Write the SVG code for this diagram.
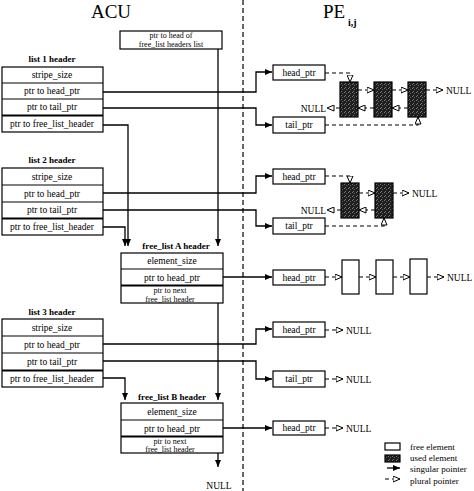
<svg xmlns="http://www.w3.org/2000/svg" width="474" height="491" viewBox="0 0 474 491">
<style>
text{font-family:"Liberation Serif","Times New Roman",serif;fill:#000}
.t{font-size:9.5px;text-anchor:middle}
.s{font-size:8px;text-anchor:middle}
.h{font-size:9px;font-weight:bold;text-anchor:middle}
.n{font-size:9.5px}
.title{font-size:19px;text-anchor:middle}
.box{fill:#fff;stroke:#000;stroke-width:1.2}
.used{fill:url(#hatch);stroke:#000;stroke-width:1.2}
.free{fill:#fff;stroke:#000;stroke-width:1.2}
.sp{fill:none;stroke:#000;stroke-width:1.3;marker-end:url(#sa)}
.pp{fill:none;stroke:#000;stroke-width:1.1;stroke-dasharray:4,3;marker-end:url(#pa)}
.div{fill:none;stroke:#000;stroke-width:1.2;stroke-dasharray:5,3}
</style>
<defs>
<pattern id="hatch" width="4" height="4" patternUnits="userSpaceOnUse">
<rect width="4" height="4" fill="#1e1e1e"/>
<rect x="0" y="0" width="1" height="1" fill="#777"/>
<rect x="2" y="1" width="1" height="1" fill="#666"/>
<rect x="1" y="3" width="1" height="1" fill="#777"/>
</pattern>
<marker id="sa" markerWidth="8" markerHeight="6" refX="7" refY="3" orient="auto" markerUnits="userSpaceOnUse">
<path d="M0,0 L7,3 L0,6 z" fill="#000"/>
</marker>
<marker id="pa" markerWidth="9" markerHeight="7" refX="7.5" refY="3.5" orient="auto" markerUnits="userSpaceOnUse">
<path d="M0.5,0.5 L7.5,3.5 L0.5,6.5 z" fill="#fff" stroke="#000" stroke-width="1"/>
</marker>
</defs>

<rect width="474" height="491" fill="#fff"/>

<text class="title" x="111" y="18">ACU</text>
<text class="title" x="334" y="18">PE</text>
<text x="348" y="26" style="font-size:10px;font-weight:bold">i,j</text>

<line class="div" x1="243" y1="0" x2="243" y2="491"/>

<g id="freelist-head-ptr">
<rect class="box" x="120" y="31" width="102" height="18"/>
<text class="s" x="171" y="38">ptr to head of</text>
<text class="s" x="171" y="47">free_list headers list</text>
</g>

<g id="list1-header">
<text class="h" x="52" y="62">list 1 header</text>
<rect class="box" x="2" y="67" width="101" height="65"/>
<line x1="2" y1="83" x2="103" y2="83" stroke="#000" stroke-width="1.2"/>
<line x1="2" y1="99" x2="103" y2="99" stroke="#000" stroke-width="1.2"/>
<line x1="2" y1="115.5" x2="103" y2="115.5" stroke="#000" stroke-width="2"/>
<text class="t" x="52" y="78">stripe_size</text>
<text class="t" x="52" y="94">ptr to head_ptr</text>
<text class="t" x="52" y="110">ptr to tail_ptr</text>
<text class="t" x="52" y="127">ptr to free_list_header</text>
</g>

<g id="list2-header">
<text class="h" x="52" y="163">list 2 header</text>
<rect class="box" x="2" y="168" width="101" height="67"/>
<line x1="2" y1="185" x2="103" y2="185" stroke="#000" stroke-width="1.2"/>
<line x1="2" y1="202" x2="103" y2="202" stroke="#000" stroke-width="1.2"/>
<line x1="2" y1="218.5" x2="103" y2="218.5" stroke="#000" stroke-width="2"/>
<text class="t" x="52" y="180">stripe_size</text>
<text class="t" x="52" y="197">ptr to head_ptr</text>
<text class="t" x="52" y="213">ptr to tail_ptr</text>
<text class="t" x="52" y="230">ptr to free_list_header</text>
</g>

<g id="list3-header">
<text class="h" x="52" y="315">list 3 header</text>
<rect class="box" x="2" y="319" width="101" height="68"/>
<line x1="2" y1="336" x2="103" y2="336" stroke="#000" stroke-width="1.2"/>
<line x1="2" y1="353" x2="103" y2="353" stroke="#000" stroke-width="1.2"/>
<line x1="2" y1="370.5" x2="103" y2="370.5" stroke="#000" stroke-width="2"/>
<text class="t" x="52" y="331">stripe_size</text>
<text class="t" x="52" y="348">ptr to head_ptr</text>
<text class="t" x="52" y="365">ptr to tail_ptr</text>
<text class="t" x="52" y="382">ptr to free_list_header</text>
</g>

<g id="freelistA-header">
<text class="h" x="176" y="249">free_list A header</text>
<rect class="box" x="121" y="253" width="102" height="50"/>
<line x1="121" y1="269" x2="223" y2="269" stroke="#000" stroke-width="1.2"/>
<line x1="121" y1="285.5" x2="223" y2="285.5" stroke="#000" stroke-width="2"/>
<text class="t" x="172" y="264">element_size</text>
<text class="t" x="172" y="281">ptr to head_ptr</text>
<text class="s" x="170" y="292.5">ptr to next</text>
<text class="s" x="170" y="301.5">free_list header</text>
</g>

<g id="freelistB-header">
<text class="h" x="172" y="400">free_list B header</text>
<rect class="box" x="121" y="403" width="102" height="50"/>
<line x1="121" y1="420" x2="223" y2="420" stroke="#000" stroke-width="1.2"/>
<line x1="121" y1="436.5" x2="223" y2="436.5" stroke="#000" stroke-width="2"/>
<text class="t" x="172" y="415">element_size</text>
<text class="t" x="172" y="432">ptr to head_ptr</text>
<text class="s" x="170" y="443.5">ptr to next</text>
<text class="s" x="170" y="452">free_list header</text>
</g>

<g id="pe-list1">
<rect class="box" x="273" y="65" width="52" height="15"/>
<text class="t" x="299" y="76">head_ptr</text>
<rect class="box" x="273" y="117" width="52" height="16"/>
<text class="t" x="299" y="128">tail_ptr</text>
<rect class="used" x="340" y="82" width="18" height="35"/>
<rect class="used" x="374" y="82" width="18" height="35"/>
<rect class="used" x="408" y="82" width="18" height="35"/>
<text class="n" x="446" y="94">NULL</text>
<text class="n" x="326" y="112" text-anchor="end">NULL</text>
</g>

<g id="pe-list2">
<rect class="box" x="273" y="169" width="52" height="15"/>
<text class="t" x="299" y="180">head_ptr</text>
<rect class="box" x="273" y="218" width="52" height="16"/>
<text class="t" x="299" y="229">tail_ptr</text>
<rect class="used" x="341" y="183" width="18" height="35"/>
<rect class="used" x="375" y="183" width="18" height="35"/>
<text class="n" x="412" y="197">NULL</text>
<text class="n" x="326" y="214" text-anchor="end">NULL</text>
</g>

<g id="pe-freelistA">
<rect class="box" x="273" y="270" width="52" height="15"/>
<text class="t" x="299" y="281">head_ptr</text>
<rect class="free" x="342" y="260" width="17" height="34"/>
<rect class="free" x="376" y="260" width="17" height="34"/>
<rect class="free" x="410" y="259" width="17" height="35"/>
<text class="n" x="447" y="281">NULL</text>
</g>

<g id="pe-list3">
<rect class="box" x="273" y="322" width="52" height="15"/>
<text class="t" x="299" y="333">head_ptr</text>
<text class="n" x="346" y="334">NULL</text>
<rect class="box" x="273" y="371" width="52" height="16"/>
<text class="t" x="299" y="382">tail_ptr</text>
<text class="n" x="346" y="383">NULL</text>
</g>

<g id="pe-freelistB">
<rect class="box" x="273" y="421" width="52" height="14"/>
<text class="t" x="299" y="431">head_ptr</text>
<text class="n" x="346" y="432">NULL</text>
</g>

<g id="null-bottom">
<text class="n" x="219" y="489" text-anchor="middle">NULL</text>
</g>

<g id="legend">
<rect class="free" x="385" y="443" width="15" height="7"/>
<text class="n" x="410" y="450" style="font-size:9px">free element</text>
<rect class="used" x="385" y="455" width="15" height="7"/>
<text class="n" x="410" y="461" style="font-size:9px">used element</text>
<path class="sp" d="M387,468 H400"/>
<text class="n" x="410" y="472" style="font-size:9px">singular pointer</text>
<path class="pp" d="M385,479 H400"/>
<text class="n" x="410" y="484" style="font-size:9px">plural pointer</text>
</g>

<g id="connectors">
<path class="sp" d="M218,49 V246"/>
<path class="sp" d="M103,92 H256 V72 H272"/>
<path class="sp" d="M103,108 H256 V125 H272"/>
<path class="sp" d="M103,125 H128 V246"/>
<path class="sp" d="M103,193 H256 V176 H272"/>
<path class="sp" d="M103,210 H256 V226 H272"/>
<path class="sp" d="M103,227 H125 V246"/>
<path class="sp" d="M223,277 H272"/>
<path class="sp" d="M218,303 V400"/>
<path class="sp" d="M103,344 H256 V329 H272"/>
<path class="sp" d="M103,361 H256 V379 H272"/>
<path class="sp" d="M103,378 H125 V400"/>
<path class="sp" d="M223,428 H272"/>
<path class="sp" d="M218,453 V467"/>

<path class="pp" d="M325,73 H350 V82"/>
<path class="pp" d="M358,90 H374"/>
<path class="pp" d="M392,90 H408"/>
<path class="pp" d="M426,90 H443"/>
<path class="pp" d="M408,108 H392"/>
<path class="pp" d="M374,108 H358"/>
<path class="pp" d="M340,108 H327"/>
<path class="pp" d="M325,125 H418 V117"/>

<path class="pp" d="M325,176 H350 V183"/>
<path class="pp" d="M359,193 H375"/>
<path class="pp" d="M393,193 H409"/>
<path class="pp" d="M375,210 H359"/>
<path class="pp" d="M341,210 H327"/>
<path class="pp" d="M325,226 H384 V218"/>

<path class="pp" d="M325,277 H342"/>
<path class="pp" d="M359,277 H376"/>
<path class="pp" d="M393,277 H410"/>
<path class="pp" d="M427,277 H444"/>

<path class="pp" d="M325,330 H343"/>
<path class="pp" d="M325,379 H343"/>
<path class="pp" d="M325,428 H343"/>
</g>
</svg>
